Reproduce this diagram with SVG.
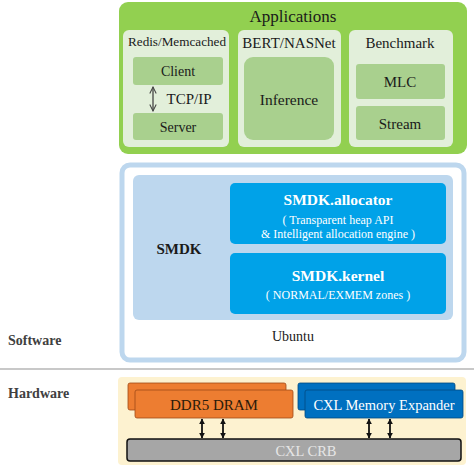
<svg xmlns="http://www.w3.org/2000/svg" width="474" height="467" viewBox="0 0 474 467">
<defs>
<marker id="hd" viewBox="0 0 10 10" refX="9" refY="5" markerWidth="6" markerHeight="7" orient="auto-start-reverse" markerUnits="userSpaceOnUse"><path d="M0,0 L10,5 L0,10 z" fill="#111"/></marker>
<marker id="op" viewBox="0 0 10 10" refX="9" refY="5" markerWidth="8" markerHeight="8" orient="auto-start-reverse" markerUnits="userSpaceOnUse"><path d="M1,1 L9,5 L1,9" fill="none" stroke="#444" stroke-width="1.3"/></marker>
<style>
text{font-family:'Liberation Serif','DejaVu Serif',serif;text-anchor:middle;fill:#1a1a1a}
.lg{fill:#e2efda}
.mg{fill:#a9d08e}
.sb{fill:#00a2e8}
.b{font-weight:bold}
.wt{fill:#fff}
.side{text-anchor:start;font-weight:bold;fill:#404040;font-size:14px}
</style>
</defs>
<rect x="0" y="0" width="474" height="467" fill="#fff"/>
<g id="applications">
<rect x="119" y="2" width="348" height="152" rx="9" fill="#92d050"/>
<text x="293" y="22" font-size="17">Applications</text>
</g>
<g id="redis">
<rect class="lg" x="123" y="30" width="106" height="117" rx="6"/>
<text x="177" y="46" font-size="12.5" textLength="98" lengthAdjust="spacingAndGlyphs">Redis/Memcached</text>
</g>
<g id="client"><rect class="mg" x="133" y="57" width="90" height="28" rx="3"/><text x="178" y="76" font-size="14">Client</text></g>
<g id="server"><rect class="mg" x="133" y="113" width="90" height="27" rx="3"/><text x="178" y="132" font-size="14">Server</text></g>
<g id="tcpip"><text x="189" y="104" font-size="15">TCP/IP</text></g>
<g id="bert">
<rect class="lg" x="238" y="30" width="103" height="117" rx="6"/>
<text x="289" y="48" font-size="15">BERT/NASNet</text>
</g>
<g id="inference"><rect class="mg" x="244" y="57" width="90" height="83" rx="9"/><text x="289" y="105" font-size="15.5">Inference</text></g>
<g id="benchmark">
<rect class="lg" x="349" y="30" width="104" height="117" rx="6"/>
<text x="400" y="48" font-size="15">Benchmark</text>
</g>
<g id="mlc"><rect class="mg" x="356" y="64" width="89" height="35" rx="3"/><text x="400" y="87" font-size="15">MLC</text></g>
<g id="stream"><rect class="mg" x="356" y="106" width="89" height="34" rx="3"/><text x="400" y="129" font-size="15">Stream</text></g>
<g id="ubuntu">
<rect x="122" y="165" width="342" height="195" rx="8" fill="#fff" stroke="#bdd7ee" stroke-width="5"/>
<text x="293" y="341" font-size="14">Ubuntu</text>
</g>
<g id="smdk">
<rect x="133" y="175" width="320" height="145" rx="6" fill="#bdd7ee"/>
<text class="b" x="179" y="254" font-size="15">SMDK</text>
</g>
<g id="allocator">
<rect class="sb" x="230" y="183" width="216" height="61" rx="5"/>
<text class="b wt" x="338" y="205" font-size="15.5">SMDK.allocator</text>
<text class="wt" x="338" y="224" font-size="12">( Transparent heap API</text>
<text class="wt" x="338" y="238" font-size="12">&amp; Intelligent  allocation  engine )</text>
</g>
<g id="kernel">
<rect class="sb" x="230" y="253" width="216" height="61" rx="5"/>
<text class="b wt" x="338" y="281" font-size="15.5">SMDK.kernel</text>
<text class="wt" x="338" y="299" font-size="12">( NORMAL/EXMEM  zones )</text>
</g>
<g id="labels">
<text class="side" x="8" y="345">Software</text>
<line x1="0" y1="369" x2="474" y2="369" stroke="#c8c8c8" stroke-width="2"/>
<text class="side" x="8" y="398">Hardware</text>
</g>
<g id="hardware">
<rect x="118" y="377" width="348" height="88" rx="4" fill="#fdf2d0"/>
</g>
<g id="ddr5">
<rect x="128" y="383" width="158" height="27" rx="2" fill="#ed7d31" stroke="#a04a18" stroke-width="0.8"/>
<rect x="135" y="390" width="158" height="28" rx="2" fill="#ed7d31" stroke="#a04a18" stroke-width="0.8"/>
<text x="214" y="410" font-size="15" style="fill:#2a1a0a">DDR5 DRAM</text>
</g>
<g id="cxlexp">
<rect x="298" y="383" width="157" height="27" rx="2" fill="#0070c0" stroke="#004a80" stroke-width="0.8"/>
<rect x="305" y="390" width="158" height="28" rx="2" fill="#0070c0" stroke="#004a80" stroke-width="0.8"/>
<text class="wt" x="384" y="410" font-size="14.5">CXL  Memory  Expander</text>
</g>
<g id="crb">
<rect x="127" y="439" width="334" height="22" rx="3" fill="#a6a6a6" stroke="#111" stroke-width="1.5"/>
<text x="306" y="456" font-size="14.5" style="fill:#e6e6e6">CXL  CRB</text>
</g>
<g id="connectors" stroke-width="1.8" stroke="#111">
<line x1="153" y1="87" x2="153" y2="111" stroke="#444" stroke-width="1.3" marker-start="url(#op)" marker-end="url(#op)"/>
<line x1="202" y1="419" x2="202" y2="438" marker-start="url(#hd)" marker-end="url(#hd)"/>
<line x1="223" y1="419" x2="223" y2="438" marker-start="url(#hd)" marker-end="url(#hd)"/>
<line x1="369" y1="419" x2="369" y2="438" marker-start="url(#hd)" marker-end="url(#hd)"/>
<line x1="390" y1="419" x2="390" y2="438" marker-start="url(#hd)" marker-end="url(#hd)"/>
</g>
</svg>
